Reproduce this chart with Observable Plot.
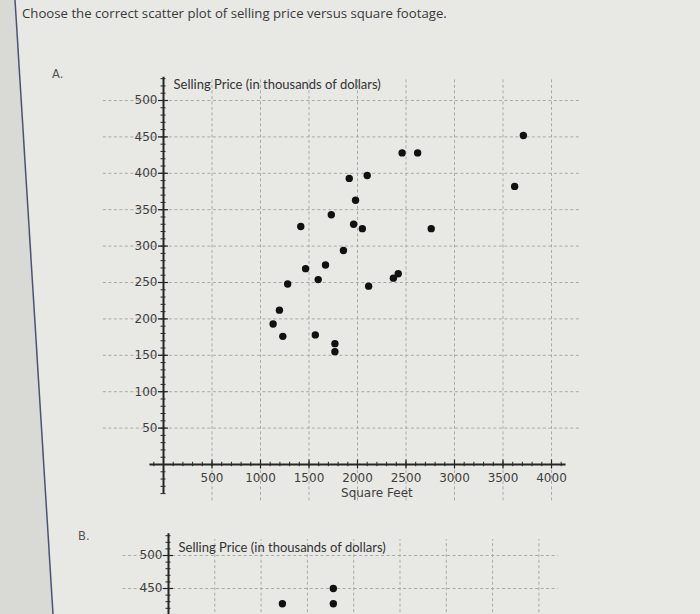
<!DOCTYPE html>
<html><head><meta charset="utf-8">
<script src="https://cdn.jsdelivr.net/npm/d3@7"></script>
<script src="https://cdn.jsdelivr.net/npm/@observablehq/plot@0.6"></script>
<style>
html,body{margin:0;padding:0;width:700px;height:614px;overflow:hidden;background:#e8e8e5;}
#page{position:relative;width:700px;height:614px;overflow:hidden;}
.abs{position:absolute;}
#q{left:22px;top:4px;font:13.2px "Open Sans",sans-serif;color:#3a3a3a;white-space:nowrap;}
.lbl{font:11.5px "DejaVu Sans",sans-serif;color:#555;}
</style></head>
<body><div id="page">
<svg class="abs" style="left:0;top:0" width="700" height="614">
  <polygon points="0,0 15,0 53,614 0,614" fill="#d9d9d6"></polygon>
  <line x1="15" y1="0" x2="53" y2="614" stroke="#4d5275" stroke-width="1.5"></line>
</svg>
<div id="q" class="abs">Choose the correct scatter plot of selling price versus square footage.</div>
<div class="abs lbl" style="left:52px;top:67px">A.</div>
<div class="abs lbl" style="left:78px;top:529px">B.</div>
<div id="chartA" class="abs" style="left:100px;top:60px"></div>
<div id="chartB" class="abs" style="left:100px;top:524px"></div>
</div>
<script>
// ---- data ----
const xTicks = [500, 1000, 1500, 2000, 2500, 3000, 3500, 4000];
const yTicks = [50, 100, 150, 200, 250, 300, 350, 400, 450, 500];
const xTitle = "Square Feet";
const yTitle = "Selling Price (in thousands of dollars)";

// Option A
const sqftA  = [3710, 2460, 2620, 1915, 2100, 3620, 1980, 1730, 1415, 1960, 2050, 2760, 1855,
                1465, 1670, 1595, 1280, 2115, 2370, 2420, 1195, 1130, 1230, 1565, 1767, 1767];
const priceA = [ 452,  428,  428,  393,  397,  382,  363,  343,  327,  330,  324,  324,  294,
                 269,  274,  254,  248,  245,  256,  262,  212,  193,  176,  178,  166,  155];
// Option B (only the top part is visible in the window)
const sqftB  = [1230, 1780, 1780];
const priceB = [ 427,  450,  427];

const ptsA = sqftA.map((x, i) => ({x, y: priceA[i]}));
const ptsB = sqftB.map((x, i) => ({x, y: priceB[i]}));

function scatter({pts, width, height, left, top, ox, oy, kx, ky, gx1, gx2, gy1, gy2,
                  ax1, ax2, ay1, ay2, titleY, showX}) {
  // ox, oy: page position of the origin; kx, ky: pixels per data unit
  const xDom = [(left - ox) / kx, (left + width - ox) / kx];
  const yDom = [(oy - (top + height)) / ky, (oy - top) / ky];
  const ux = 1 / kx, uy = 1 / ky; // data units per pixel
  const grid = {stroke: "#a9a9a6", strokeDasharray: "3,2.5", strokeWidth: 1};
  const axisC = "#262626";
  const yVis = yTicks.filter(v => v >= yDom[0] + 6 * uy && v <= yDom[1]);
  const yMinor = d3.range(-40, ay2 + 1, 10).filter(v => v >= ay1);
  const xMinor = d3.range(-100, ax2 + 1, 100).filter(v => v >= ax1);
  const marks = [
    Plot.ruleY(yVis, {x1: gx1, x2: gx2, ...grid}),
    Plot.ruleX(xTicks, {y1: gy1, y2: gy2, ...grid}),
    Plot.ruleX([0], {y1: ay1, y2: ay2, stroke: axisC, strokeWidth: 2}),
    Plot.ruleY(yMinor, {x1: -2.5 * ux, x2: 2.5 * ux, stroke: axisC, strokeWidth: 1}),
    Plot.ruleY(yVis, {x1: -5 * ux, x2: 5 * ux, stroke: axisC, strokeWidth: 1.2}),
    Plot.text(yVis, {x: 0, y: d => d, text: d => String(d), dx: -6, textAnchor: "end",
                     fontSize: 12, fill: "#3f3f3f"}),
    Plot.text([yTitle], {x: 0, y: titleY, dx: 10, textAnchor: "start", fontSize: 13,
                         fontFamily: "Lato", fill: "#333"}),
    Plot.dot(pts, {x: "x", y: "y", r: 3.7, fill: "#111", stroke: "none"})
  ];
  if (showX) {
    marks.push(
      Plot.ruleY([0], {x1: ax1, x2: ax2, stroke: axisC, strokeWidth: 2}),
      Plot.ruleX(xMinor, {y1: -2.2 * uy, y2: 2.2 * uy, stroke: axisC, strokeWidth: 1}),
      Plot.ruleX(xTicks, {y1: -4.5 * uy, y2: 4.5 * uy, stroke: axisC, strokeWidth: 1.2}),
      Plot.text(xTicks, {x: d => d, y: 0, text: d => String(d), dy: 14, fontSize: 12, fill: "#3f3f3f"}),
      Plot.text([xTitle], {x: 2200, y: 0, dy: 29, fontSize: 12, fill: "#3f3f3f"})
    );
  }
  return Plot.plot({
    width, height, margin: 0,
    x: {domain: xDom, axis: null},
    y: {domain: yDom, axis: null},
    style: {background: "transparent", fontFamily: "DejaVu Sans", overflow: "hidden"},
    marks
  });
}

document.getElementById("chartA").append(scatter({
  pts: ptsA, width: 500, height: 460, left: 100, top: 60,
  ox: 163, oy: 464, kx: 0.097, ky: 0.728,
  gx1: -620, gx2: 4300, gy1: -50, gy2: 530,
  ax1: -140, ax2: 4150, ay1: -40, ay2: 532, titleY: 521, showX: true
}));

document.getElementById("chartB").append(scatter({
  pts: ptsB, width: 500, height: 90, left: 100, top: 524,
  ox: 168, oy: 885, kx: 0.0926, ky: 0.66,
  gx1: -490, gx2: 4210, gy1: 380, gy2: 524,
  ax1: 0, ax2: 0, ay1: 380, ay2: 533, titleY: 512, showX: false
}));
</script>
</body></html>
